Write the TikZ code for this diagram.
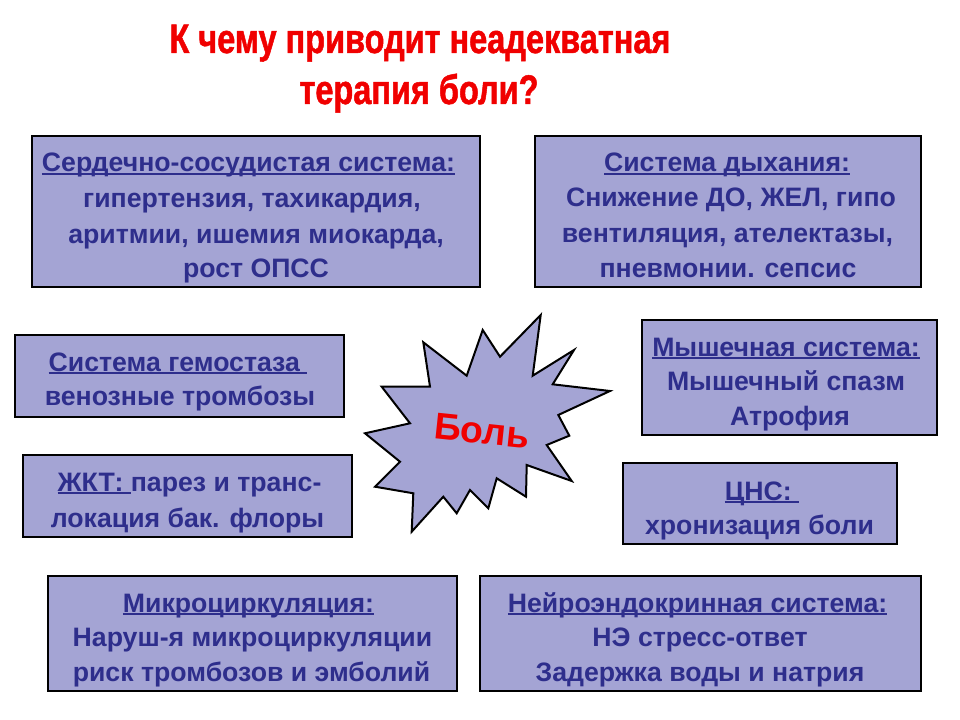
\documentclass[tikz,border=0pt]{standalone}
\usepackage{fontspec}
\setmainfont{Liberation Sans}
\newfontfamily\titlefont[FakeStretch=0.786,FakeBold=1.2]{Liberation Sans}
\newsavebox\ulxbox
\newcommand\ulx[1]{\sbox\ulxbox{#1}\rlap{\rule[-2.4pt]{\wd\ulxbox}{1.3pt}}\usebox\ulxbox}
\definecolor{boxfill}{RGB}{164,164,212}
\definecolor{boxtext}{RGB}{46,46,140}
\definecolor{titlered}{RGB}{240,0,0}
\tikzset{
  sysbox/.style={draw=black, line width=1.5pt, fill=boxfill, inner sep=0pt},
  txt/.style={anchor=base, inner sep=0pt, font=\bfseries\fontsize{20pt}{24pt}\selectfont, text=boxtext},
  ttl/.style={anchor=base, inner sep=0pt, font=\titlefont\bfseries\fontsize{31pt}{36pt}\selectfont, text=titlered},
}
\begin{document}
\begin{tikzpicture}[x=0.75pt,y=-0.75pt]
\useasboundingbox (0,0) rectangle (960,720);
% title
\node[ttl] (t1) at (420,53) {К чему приводит неадекватная};
\node[ttl] (t2) at (419,104) {терапия боли?};
% boxes
\draw[sysbox] (32,136) rectangle (480,287) node[pos=0.5] (cardio) {};
\draw[sysbox] (535,136) rectangle (921,287) node[pos=0.5] (resp) {};
\draw[sysbox] (642,320) rectangle (937,435) node[pos=0.5] (muscle) {};
\draw[sysbox] (15,335) rectangle (344,417) node[pos=0.5] (hemo) {};
\draw[sysbox] (23,455) rectangle (352,537) node[pos=0.5] (gi) {};
\draw[sysbox] (623,463) rectangle (897,544) node[pos=0.5] (cns) {};
\draw[sysbox] (48,576) rectangle (457,691) node[pos=0.5] (micro) {};
\draw[sysbox] (480,576) rectangle (921,691) node[pos=0.5] (neuro) {};
% star
\draw[draw=black, line width=1.5pt, fill=boxfill, line join=miter]
 (423.3,342.3) -- (466.7,375.7) -- (482.7,330) -- (500,356.7) -- (540.7,315) -- (532.7,375.7)
 -- (574,350) -- (552.7,384.3) -- (610,391) -- (558.3,415) -- (569.3,435.7) -- (546.7,445)
 -- (571.7,481) -- (526.7,465) -- (526,496.7) -- (496.7,478.3) -- (488.3,508.3) -- (470,490)
 -- (456.7,513.3) -- (443.3,496.7) -- (411.7,531.7) -- (413.3,493.3) -- (375,486.7) -- (400,461.7)
 -- (365,433.3) -- (410,423.3) -- (381.7,386.7) -- (430,386.7) -- cycle;
\node[inner sep=0pt, rotate=-6, font=\bfseries\fontsize{28pt}{32pt}\selectfont, text=titlered] (pain) at (482,431) {Боль};
% cardio text
\node[txt] (c1) at (248.5,172) {\ulx{Сердечно-сосудистая система:}};
\node[txt] (c2) at (252,208) {гипертензия, тахикардия,};
\node[txt] (c3) at (256,244) {аритмии, ишемия миокарда,};
\node[txt] (c4) at (256,277) {рост ОПСС};
% resp
\node[txt] (r1) at (727,172) {\ulx{Система дыхания:}};
\node[txt] (r2) at (731,207) {Снижение ДО, ЖЕЛ, гипо};
\node[txt] (r3) at (727.5,243) {вентиляция, ателектазы,};
\node[txt] (r4) at (728,277) {пневмонии. сепсис};
% muscle
\node[txt] (m1) at (786,356) {\ulx{Мышечная система:}};
\node[txt] (m2) at (786,390) {Мышечный спазм};
\node[txt] (m3) at (790,425) {Атрофия};
% hemostasis
\node[txt] (h1) at (178,371) {\ulx{Система гемостаза\ }};
\node[txt] (h2) at (180,405) {венозные тромбозы};
% GI
\node[txt] (g1) at (189.5,491) {\ulx{ЖКТ:\ }парез и транс-};
\node[txt] (g2) at (187.5,527) {локация бак. флоры};
% CNS
\node[txt] (n1) at (762,500) {\ulx{ЦНС:\ }};
\node[txt] (n2) at (759.5,534) {хронизация боли};
% micro
\node[txt] (mc1) at (248.5,612) {\ulx{Микроциркуляция:}};
\node[txt] (mc2) at (252.5,646) {Наруш-я микроциркуляции};
\node[txt] (mc3) at (251.5,681) {риск тромбозов и эмболий};
% neuro
\node[txt] (ne1) at (697.5,612) {\ulx{Нейроэндокринная система:}};
\node[txt] (ne2) at (700,646) {НЭ стресс-ответ};
\node[txt] (ne3) at (700,681) {Задержка воды и натрия};
\end{tikzpicture}
\end{document}
